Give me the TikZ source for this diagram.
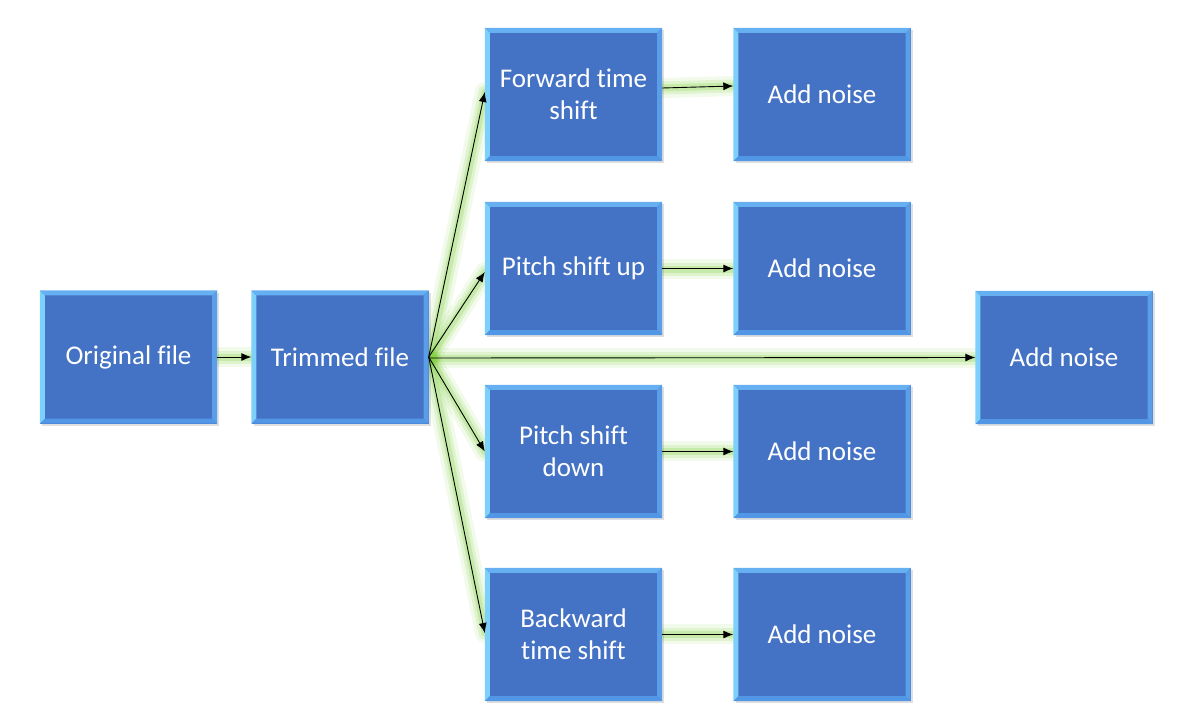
\documentclass[tikz,border=0pt]{standalone}
\usepackage{fontspec}
\setmainfont{Carlito}[Ligatures=CommonOff]
\usetikzlibrary{arrows.meta,shadows}
\definecolor{boxblue}{HTML}{4472C4}
\definecolor{bevL}{HTML}{7CD0FA}
\definecolor{bevT}{HTML}{66B0F2}
\definecolor{bevR}{HTML}{5A9EEA}
\definecolor{bevB}{HTML}{5296E6}
\definecolor{glow}{HTML}{7ED03C}
\tikzset{
  blk/.style={rectangle, fill=boxblue, minimum width=177pt, minimum height=133pt,
    inner sep=0pt, text=white, align=center, font=\fontsize{27}{32}\selectfont,
    drop shadow={opacity=0.25, shadow xshift=2pt, shadow yshift=-2pt}},
  conn/.style={draw=black, line width=0.9pt, -{Latex[length=10pt,width=8pt]}},
  glowA/.style={draw=glow, line width=20pt, opacity=0.10, line cap=round},
  glowB/.style={draw=glow, line width=13pt, opacity=0.16, line cap=round},
  glowC/.style={draw=glow, line width=7pt, opacity=0.25, line cap=round},
}
\newcommand{\bevelbox}[1]{%
  \fill[bevL] (#1.north west) -- ([xshift=5pt,yshift=-5pt]#1.north west) -- ([xshift=5pt,yshift=5pt]#1.south west) -- (#1.south west) -- cycle;
  \fill[bevT] (#1.north west) -- (#1.north east) -- ([xshift=-5pt,yshift=-5pt]#1.north east) -- ([xshift=5pt,yshift=-5pt]#1.north west) -- cycle;
  \fill[bevR] (#1.north east) -- (#1.south east) -- ([xshift=-5pt,yshift=5pt]#1.south east) -- ([xshift=-5pt,yshift=-5pt]#1.north east) -- cycle;
  \fill[bevB] (#1.south west) -- ([xshift=5pt,yshift=5pt]#1.south west) -- ([xshift=-5pt,yshift=5pt]#1.south east) -- (#1.south east) -- cycle;
}
\newcommand{\glowline}[2]{%
  \path[glowA] (#1) -- (#2);
  \path[glowB] (#1) -- (#2);
  \path[glowC] (#1) -- (#2);
}
\begin{document}
\begin{tikzpicture}[x=1pt,y=-1pt]
\useasboundingbox[fill=white] (0,0) rectangle (1196,726);
% glows first (behind boxes)
\coordinate (src) at (430,358);
\coordinate (o1) at (217,357);
\coordinate (t1) at (251,357);
\glowline{o1}{t1}
\glowline{src}{485,92}
\glowline{src}{485,272}
\glowline{src}{975,358}
\glowline{src}{485,452}
\glowline{src}{485,633}
\glowline{662,88}{733,86}
\glowline{662,269}{733,269}
\glowline{662,451}{733,451}
\glowline{662,634}{733,634}
\fill[glow, opacity=0.4] (430,358) circle (8pt);
% boxes
\node[blk] (orig) at (128.5,357) {Original file};
\node[blk] (trim) at (340,357) {Trimmed file};
\node[blk] (fwd) at (573.5,94.5) {Forward time\\shift};
\node[blk] (n1) at (822,94.5) {Add noise};
\node[blk] (up) at (573.5,268.5) {Pitch shift up};
\node[blk] (n2) at (822,268.5) {Add noise};
\node[blk] (big) at (1064,357.5) {Add noise};
\node[blk] (down) at (573.5,451.5) {Pitch shift\\down};
\node[blk] (n3) at (822,451.5) {Add noise};
\node[blk] (back) at (573.5,634.5) {Backward\\time shift};
\node[blk] (n4) at (822,634.5) {Add noise};
\foreach \b in {orig,trim,fwd,n1,up,n2,big,down,n3,back,n4}{\bevelbox{\b}}
% connectors
\draw[conn] (orig.east) -- (trim.west);
\draw[conn] (trim.east) -- ([yshift=2.5pt]fwd.west);
\draw[conn] (trim.east) -- ([yshift=-3.5pt]up.west);
\draw[conn] ([yshift=-1pt]trim.east) -- (big.west);
\draw[conn] (trim.east) -- (down.west);
\draw[conn] (trim.east) -- ([yshift=1.5pt]back.west);
\draw[conn] ([yshift=6.5pt]fwd.east) -- ([yshift=8.5pt]n1.west);
\draw[conn] (up.east) -- (n2.west);
\draw[conn] (down.east) -- (n3.west);
\draw[conn] (back.east) -- (n4.west);
\end{tikzpicture}
\end{document}
